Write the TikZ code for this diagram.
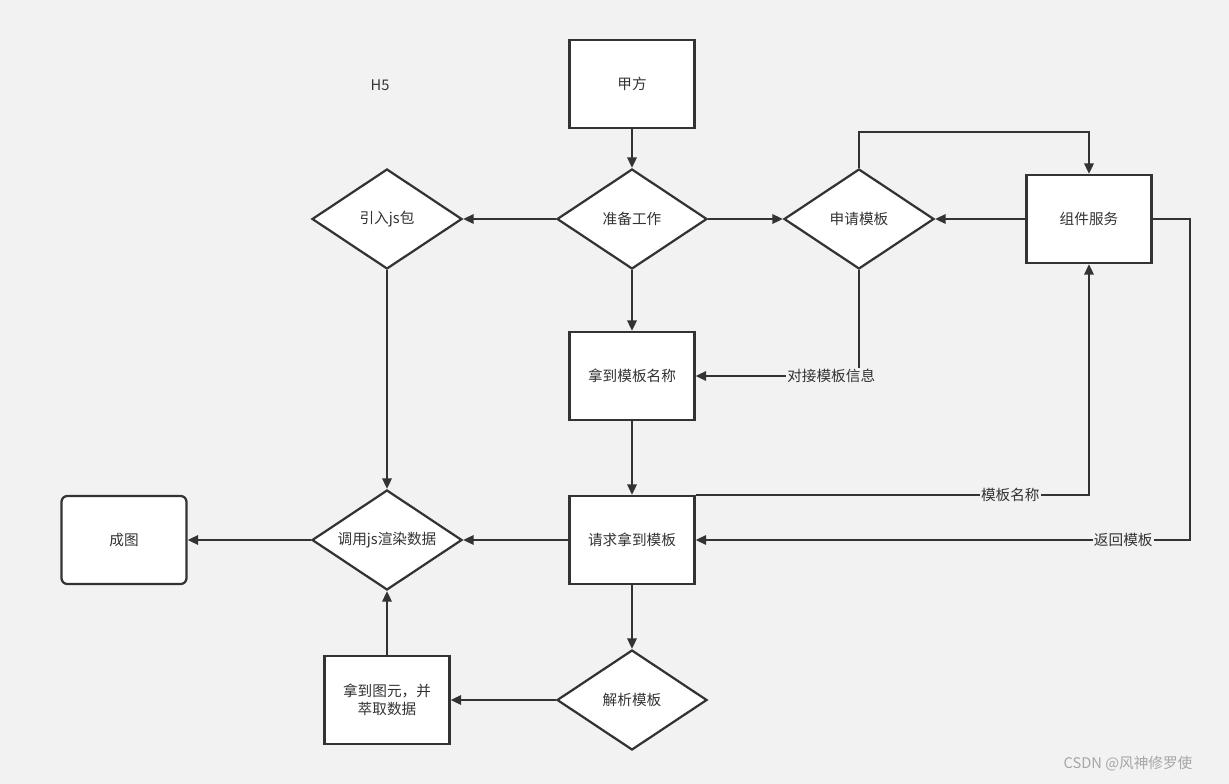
\documentclass[tikz,border=0pt]{standalone}
\usepackage{fontspec}
\setmainfont{Noto Sans CJK SC}
\usetikzlibrary{shapes.geometric,arrows.meta}
\definecolor{bg}{HTML}{F2F2F2}
\definecolor{ln}{HTML}{333333}
\begin{document}
\begin{tikzpicture}[x=0.03cm,y=-0.03cm,
  every node/.style={font=\fontsize{12.5}{15}\selectfont,text=ln},
  box/.style={draw=ln,line width=1.9pt,fill=white,minimum width=3.75cm,minimum height=2.64cm,inner sep=0pt,align=center},
  dia/.style={draw=ln,line width=1.9pt,fill=white,diamond,aspect=1.5,minimum width=4.5cm,minimum height=3cm,inner sep=0pt},
  ar/.style={draw=ln,line width=1.9pt,-{Triangle[length=9pt,width=8pt]}},
  lab/.style={fill=bg,inner sep=1pt}]
\fill[bg] (0,0) rectangle (1229,784);
\useasboundingbox (0,0) rectangle (1229,784);
\node (jf) [box] at (632,84) {甲方};
\node (zb) [dia] at (632,219) {准备工作};
\node (yr) [dia] at (387,219) {引入js包};
\node (sq) [dia] at (859,219) {申请模板};
\node (zj) [box] at (1089,219) {组件服务};
\node (nd) [box] at (632,376) {拿到模板名称};
\node (qq) [box] at (632,540) {请求拿到模板};
\node (dy) [dia] at (387,540) {调用js渲染数据};
\node (ct) [box,rounded corners=5pt] at (124,540) {成图};
\node (jx) [dia] at (632,700) {解析模板};
\node (ty) [box] at (387,700) {拿到图元，并\\萃取数据};
\node (h5) at (380,85) {H5};
\node (wm) [text=gray!70,font=\fontsize{12.5}{15}\selectfont] at (1128,764) {CSDN @风神修罗使};
\coordinate (c1) at (859,132);
\coordinate (c2) at (1089,132);
\coordinate (c3) at (1190,219);
\coordinate (c4) at (1190,540);
\coordinate (c5) at (qq.north east -| zj.south);
\draw[ar] (jf) -- (zb);
\draw[ar] (zb) -- (yr);
\draw[ar] (zb) -- (sq);
\draw[ar] (zj) -- (sq);
\draw[ar] (sq.north) -- (c1) -- (c2) -- (zj.north);
\draw[ar] (sq.south) |- node[lab,pos=0.585] {对接模板信息} (nd.east);
\draw[ar] (zb) -- (nd);
\draw[ar] (nd) -- (qq);
\draw[ar] (yr) -- (dy);
\draw[ar] (qq) -- (dy);
\draw[ar] (dy) -- (ct);
\draw[ar] (qq.north east) -- node[lab,pos=0.8] {模板名称} (c5) -- (zj.south);
\draw[ar] (zj.east) -- (c3) -- (c4) -- node[lab,pos=0.135] {返回模板} (qq.east);
\draw[ar] (qq) -- (jx);
\draw[ar] (jx) -- (ty);
\draw[ar] (ty) -- (dy);
\end{tikzpicture}
\end{document}
